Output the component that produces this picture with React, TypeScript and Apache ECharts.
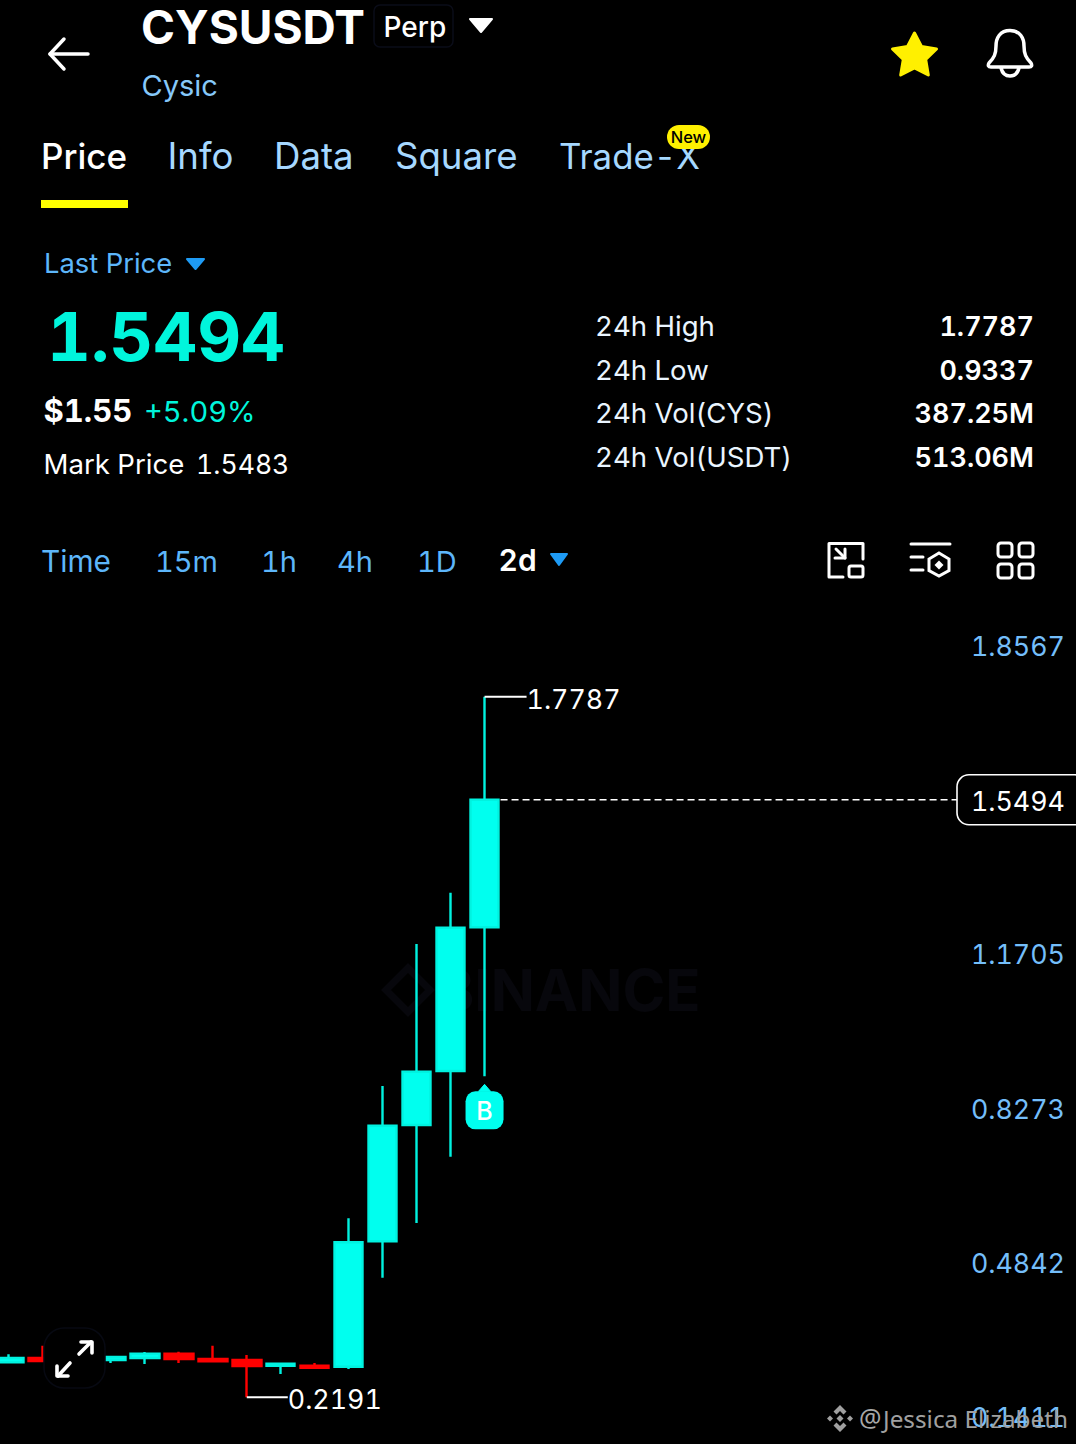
import React, { useEffect, useRef } from "react";
import * as echarts from "echarts";

const FONT = "Inter, 'Noto Sans', sans-serif";
const CYAN = "#00FFEF";
const WICK = "#00F2E0";
const RED = "#FF0000";
const BLUE = "#86C8FA";
const YELLOW = "#FFF000";

// [open, close, low, high]
const candleValues = [
  [0.297, 0.3065, 0.2954, 0.3148],
  [0.3065, 0.2999, 0.2999, 0.3339],
  [0.3032, 0.301, 0.2987, 0.3054],
  [0.3021, 0.3088, 0.2954, 0.3117],
  [0.3065, 0.3161, 0.2932, 0.3199],
  [0.3161, 0.3043, 0.2954, 0.3206],
  [0.3043, 0.2992, 0.2992, 0.3339],
  [0.3021, 0.2887, 0.2191, 0.3132],
  [0.2894, 0.2938, 0.2709, 0.2938],
  [0.2894, 0.2849, 0.282, 0.2954],
  [0.2872, 0.5642, 0.282, 0.6176],
  [0.5664, 0.8238, 0.4853, 0.9122],
  [0.8254, 0.944, 0.6071, 1.2284],
  [0.9456, 1.2647, 0.7548, 1.3426],
  [1.2656, 1.5494, 0.9337, 1.7787],
];
const slotCount = 32;
const categories = Array.from({ length: slotCount }, (_, i) => `#${i + 1}`);
const axisTicks = [0.1411, 0.4842, 0.8273, 1.1705, 1.8567];
const axisMin = 0.1411;
const axisMax = 1.8567;
// [candle index, price, kind] kind: 0 high, 1 low, 2 last price, 3 buy mark
const annotations = [
  [14, 1.7787, 0],
  [7, 0.2191, 1],
  [14, 1.5494, 2],
  [14, 0.9337, 3],
];
const tabs = ["Price", "Info", "Data", "Square", "Trade-X"];
const intervals = ["Time", "15m", "1h", "4h", "1D"];
const statLabels = ["24h High", "24h Low", "24h Vol(CYS)", "24h Vol(USDT)"];
const statValues = ["1.7787", "0.9337", "387.25M", "513.06M"];

const tabX = [41, 167.5, 274, 395, 559];
const tabSize = [35, 36.6, 36.6, 36.6, 34.8];
const intervalX = [41, 155, 261, 337, 417];
const intervalSize = [29.8, 29, 29, 29, 29];
const statY = [326, 370, 413, 457];

function t(text: string, x: number, y: number, size: number, fill: string, weight = 400, align = "left", z = 5, family = FONT) {
  return {
    type: "text",
    x,
    y,
    z,
    style: {
      text,
      fill,
      font: `${weight} ${size}px ${family}`,
      align,
      verticalAlign: "middle",
      textAlign: align,
      textVerticalAlign: "middle",
    },
  };
}
const line = (d: number[], z = 5, w = 3, stroke = "#fff") => ({
  type: "polyline",
  z,
  shape: { points: d.reduce((acc: number[][], v, i) => (i % 2 ? acc : [...acc, [v, d[i + 1]]]), []) },
  style: { stroke, lineWidth: w, fill: "none", lineCap: "round", lineJoin: "round" },
});
const rr = (x: number, y: number, w: number, h: number, r: number, style: any, z = 5) => ({
  type: "rect",
  z,
  shape: { x, y, width: w, height: h, r },
  style,
});
const tri = (pts: number[][], fill: string) => ({
  type: "polygon",
  z: 5,
  shape: { points: pts },
  style: { fill, stroke: fill, lineWidth: 2, lineJoin: "round" },
});
const GREY = "#A0A0A0";
const logoPart = (pts: number[][]) => ({ type: "polygon", z: 102, shape: { points: pts }, style: { fill: GREY } });

function buildGraphic() {
  const outline = { fill: "none", stroke: "#fff", lineWidth: 3 };
  return [
    // faint chart watermark
    t("BINANCE", 436, 990, 58, "#07070C", 700, "left", -1),
    { type: "polygon", z: -1, shape: { points: [[408, 968], [430, 990], [408, 1012], [386, 990]] }, style: { fill: "none", stroke: "#07070C", lineWidth: 7 } },

    // header
    line([88, 54, 50, 54], 5, 3.5),
    line([64, 39, 50, 54, 64, 69], 5, 3.5),
    t("CYSUSDT", 141, 27, 46, "#fff", 700),
    rr(374, 5, 79, 42, 6, { fill: "#000", stroke: "#0A0C18", lineWidth: 1.5 }),
    t("Perp", 383.5, 27, 28, "#fff", 500),
    tri([[470, 19], [492, 19], [481, 32]], "#fff"),
    t("Cysic", 141.5, 85, 29, BLUE),
    {
      type: "polygon",
      z: 5,
      shape: { points: [[914.5, 33], [921.5, 46.5], [936.5, 49], [925.7, 59.5], [928.3, 75], [914.5, 68], [900.7, 75], [903.3, 59.5], [892.5, 49], [907.5, 46.5]] },
      style: { fill: YELLOW, stroke: YELLOW, lineWidth: 3, lineJoin: "round" },
    },
    { type: "bellIcon", z: 5, x: 0, y: 0, style: { fill: "none", stroke: "#fff", lineWidth: 3.5 } },

    // tabs
    ...tabs.map((s, i) => t(s, tabX[i], 156, tabSize[i], i === 0 ? "#fff" : "#A6D8FF", i === 0 ? 500 : 400)),
    rr(41, 200, 87, 8, 0, { fill: "#FFFF00" }),
    rr(667, 125, 43, 24, 12, { fill: "#FFF000" }, 6),
    t("New", 688.5, 137, 16.5, "#000", 500, "center", 7),

    // price block
    t("Last Price", 44, 263, 27.4, "#5DB6FA"),
    tri([[187, 259], [204, 259], [195.5, 269]], "#1E9BF5"),
    t("1.5494", 47, 336, 68, "#00F5DC", 700),
    t("$1.55", 43.5, 410, 31, "#fff", 700),
    t("+5.09%", 144, 411, 29, "#00F5DC"),
    t("Mark Price", 43.5, 464, 27.6, "#fff"),
    t("1.5483", 196, 464, 26.6, "#fff"),
    ...statLabels.map((s, i) => t(s, 595, statY[i], 27.6, "#EAF5FF")),
    ...statValues.map((s, i) => t(s, 1034, statY[i], 27, "#fff", 600, "right")),

    // intervals
    ...intervals.map((s, i) => t(s, intervalX[i], 561, intervalSize[i], "#5DB6FA")),
    t("2d", 498.5, 560, 30, "#fff", 600),
    tri([[551, 554], [567, 554], [559, 565]], "#1E9BF5"),

    // tool icons
    line([843, 577, 829, 577, 829, 543.5, 863, 543.5, 863, 559]),
    rr(849, 566, 14, 11, 2, outline),
    line([836, 549, 845, 558]),
    line([835, 558, 845, 558, 845, 549]),
    line([911, 544, 950, 544]),
    line([911, 557, 923, 557]),
    line([911, 570, 923, 570]),
    { type: "polygon", z: 5, shape: { points: [[939, 553], [949, 559], [949, 570.5], [939, 576], [929, 570.5], [929, 559]] }, style: outline },
    { type: "polygon", z: 5, shape: { points: [[939, 560.5], [943.5, 565], [939, 569.5], [934.5, 565]] }, style: { fill: "#fff" } },
    rr(998, 543, 14, 14, 3, outline),
    rr(1019, 543, 14, 14, 3, outline),
    rr(998, 564, 14, 14, 3, outline),
    rr(1019, 564, 14, 14, 3, outline),

    // expand button over the chart
    rr(44, 1328, 61, 60, 20, { fill: "#000", stroke: "#070912", lineWidth: 1.5 }, 100),
    line([79, 1354, 91, 1342], 101, 3.6),
    line([81, 1342, 92, 1342, 92, 1353], 101, 3.6),
    line([70, 1363, 58, 1376], 101, 3.6),
    line([57, 1366, 57, 1376, 68, 1376], 101, 3.6),

    // attribution
    logoPart([[840, 1405], [846.5, 1411.5], [843.5, 1414.5], [840, 1411], [836.5, 1414.5], [833.5, 1411.5]]),
    logoPart([[840, 1432], [846.5, 1425.5], [843.5, 1422.5], [840, 1426], [836.5, 1422.5], [833.5, 1425.5]]),
    logoPart([[840, 1415], [843.5, 1418.5], [840, 1422], [836.5, 1418.5]]),
    logoPart([[830, 1415.5], [833, 1418.5], [830, 1421.5], [827, 1418.5]]),
    logoPart([[850, 1415.5], [853, 1418.5], [850, 1421.5], [847, 1418.5]]),
    t("@", 859, 1417, 25, "#A8A8A8", 400, "left", 102, "'Noto Sans'"),
    t("Jessica Elizabeth", 883, 1418, 24.3, GREY, 400, "left", 102, "'Noto Sans'"),
  ];
}

function renderAnnotation(_: any, api: any) {
  const kind = api.value(2);
  const [x, y] = api.coord([api.value(0), api.value(1)]);
  const font = `400 26.8px ${FONT}`;
  if (kind === 0 || kind === 1) {
    const endX = kind === 0 ? x + 42 : x + 41;
    return {
      type: "group",
      children: [
        { type: "line", shape: { x1: x, y1: y, x2: endX, y2: y }, style: { stroke: "#fff", lineWidth: 2 } },
        {
          type: "text",
          x: endX,
          y: y + 2,
          style: { text: api.value(1).toFixed(4), fill: "#fff", font, verticalAlign: "middle", textVerticalAlign: "middle" },
        },
      ],
    };
  }
  if (kind === 2) {
    return {
      type: "group",
      children: [
        { type: "line", shape: { x1: x + 16, y1: y, x2: 957, y2: y }, style: { stroke: "#fff", lineWidth: 1.6, lineDash: [7, 4] } },
        { type: "rect", shape: { x: 957, y: y - 25, width: 130, height: 50, r: 12 }, style: { fill: "#000", stroke: "#fff", lineWidth: 1.6 } },
        {
          type: "text",
          x: 1065,
          y: y + 1,
          style: { text: api.value(1).toFixed(4), fill: "#fff", font, align: "right", textAlign: "right", verticalAlign: "middle", textVerticalAlign: "middle" },
        },
      ],
    };
  }
  // buy marker hanging below the lower wick
  return {
    type: "group",
    children: [
      {
        type: "polygon",
        shape: { points: [[x - 6, y + 15], [x, y + 8], [x + 6, y + 15]] },
        style: { fill: CYAN, stroke: CYAN, lineJoin: "round", lineWidth: 1 },
      },
      { type: "rect", shape: { x: x - 19, y: y + 15, width: 38, height: 38, r: 10 }, style: { fill: CYAN } },
      {
        type: "text",
        x,
        y: y + 35,
        style: { text: "B", fill: "#fff", font: `500 25px ${FONT}`, align: "center", textAlign: "center", verticalAlign: "middle", textVerticalAlign: "middle" },
      },
    ],
  };
}

export default function App() {
  const ref = useRef<HTMLDivElement>(null);
  useEffect(() => {
    document.body.style.margin = "0";
    document.body.style.background = "#000";
    echarts.graphic.registerShape(
      "bellIcon",
      echarts.graphic.extendPath(
        "M1010 30.5C1000 30.5 996 38 996 46C996 54 994 58 989 63Q987 67 991 67L1029 67Q1033 67 1031 63C1026 58 1024 54 1024 46C1024 38 1020 30.5 1010 30.5ZM1001 68Q1003 76 1010 76Q1017 76 1019 68",
        {}
      )
    );
    const chart = echarts.init(ref.current!, undefined, { renderer: "svg" });
    chart.setOption({
      animation: false,
      backgroundColor: "#000",
      // candle centres start 9px in and step about 34px, so the category axis runs on its ticks
      grid: { left: 9, top: 661.8, width: 1053, height: 770.5, containLabel: false },
      xAxis: {
        type: "category",
        data: categories,
        show: false,
        boundaryGap: false,
      },
      yAxis: {
        type: "value",
        position: "right",
        min: axisMin,
        max: axisMax,
        scale: true,
        offset: 11,
        axisLine: { show: false },
        axisTick: { show: false },
        splitLine: { show: false },
        axisLabel: {
          inside: true,
          customValues: axisTicks,
          margin: 8,
          color: "#74BEFA",
          fontFamily: FONT,
          fontSize: 26.8,
          verticalAlign: "bottom",
          align: "right",
          padding: [0, 0, 2, 0],
          formatter: (v: number) => v.toFixed(4),
        },
      },
      graphic: buildGraphic(),
      series: [
        {
          type: "candlestick",
          data: candleValues,
          barWidth: 29,
          clip: false,
          itemStyle: {
            color: CYAN,
            color0: RED,
            borderColor: WICK,
            borderColor0: RED,
            borderWidth: 2.4,
          },
          z: 2,
        },
        {
          type: "custom",
          data: annotations,
          coordinateSystem: "cartesian2d",
          encode: { x: 0, y: 1 },
          clip: false,
          silent: true,
          renderItem: renderAnnotation,
          z: 3,
        },
      ],
    });
    return () => chart.dispose();
  }, []);
  return (
    <>
      <style>{"svg text { font-feature-settings: 'tnum' !important; }"}</style>
      <div ref={ref} style={{ position: "absolute", left: 0, top: 0, width: 1076, height: 1444 }} />
    </>
  );
}
